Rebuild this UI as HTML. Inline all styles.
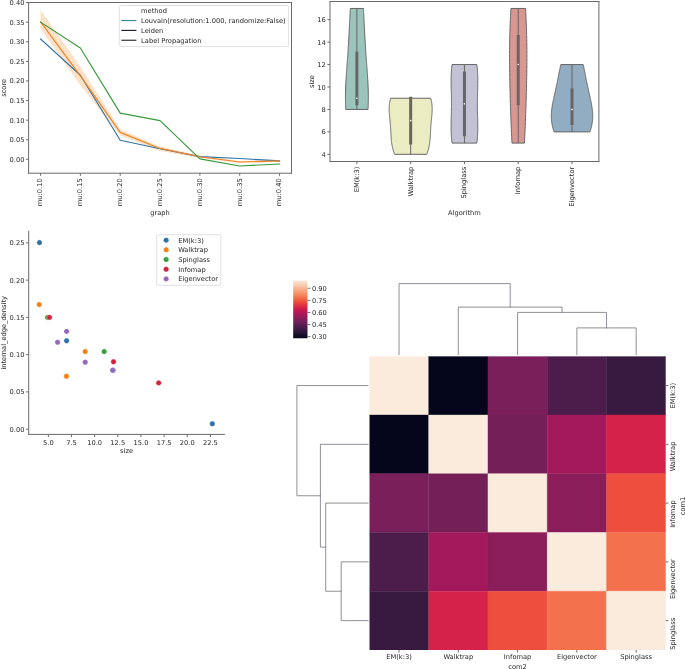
<!DOCTYPE html>
<html><head><meta charset="utf-8"><title>figure</title>
<style>html,body{margin:0;padding:0;background:#fff;}body{width:685px;height:669px;overflow:hidden;}svg{display:block;}</style>
</head><body>
<svg width="685" height="669" viewBox="0 0 685 669" version="1.1">
<defs>
<style type="text/css">*{stroke-linejoin: round; stroke-linecap: butt}</style>
</defs>
<defs><linearGradient id="rocketg" x1="0" y1="1" x2="0" y2="0"><stop offset="0.0000" stop-color="#03051a"/><stop offset="0.0312" stop-color="#0d0a21"/><stop offset="0.0625" stop-color="#180f29"/><stop offset="0.0938" stop-color="#241432"/><stop offset="0.1250" stop-color="#30173a"/><stop offset="0.1562" stop-color="#3c1a42"/><stop offset="0.1875" stop-color="#481c48"/><stop offset="0.2188" stop-color="#541e4e"/><stop offset="0.2500" stop-color="#611f53"/><stop offset="0.2812" stop-color="#6e1f57"/><stop offset="0.3125" stop-color="#7b1f59"/><stop offset="0.3438" stop-color="#891e5b"/><stop offset="0.3750" stop-color="#971c5b"/><stop offset="0.4062" stop-color="#a4195b"/><stop offset="0.4375" stop-color="#b21758"/><stop offset="0.4688" stop-color="#bf1654"/><stop offset="0.5000" stop-color="#cb1b4f"/><stop offset="0.5312" stop-color="#d62449"/><stop offset="0.5625" stop-color="#df2f44"/><stop offset="0.5938" stop-color="#e73d3f"/><stop offset="0.6250" stop-color="#ec4c3e"/><stop offset="0.6562" stop-color="#f05c42"/><stop offset="0.6875" stop-color="#f26b49"/><stop offset="0.7188" stop-color="#f47a54"/><stop offset="0.7500" stop-color="#f58860"/><stop offset="0.7812" stop-color="#f5966c"/><stop offset="0.8125" stop-color="#f6a37a"/><stop offset="0.8438" stop-color="#f6b089"/><stop offset="0.8750" stop-color="#f6bc99"/><stop offset="0.9062" stop-color="#f7c9aa"/><stop offset="0.9375" stop-color="#f8d4bc"/><stop offset="0.9688" stop-color="#f9e0cd"/><stop offset="1.0000" stop-color="#faebdd"/></linearGradient></defs><g id="figure_1">
<g id="patch_1">
<path d="M 0 669 
L 685 669 
L 685 0 
L 0 0 
z
" style="fill: #ffffff"/>
</g>
<g id="axes_1">
<g id="patch_2">
<path d="M 28.6 173.2 
L 291.5 173.2 
L 291.5 2.5 
L 28.6 2.5 
z
" style="fill: #ffffff"/>
</g>
<g id="FillBetweenPolyCollection_1">
<defs>
<path id="mf088a156a7" d="M 40.55 -658.97 
L 40.55 -640.16 
L 80.38 -583.73 
L 120.21 -533.41 
L 160.05 -518.05 
L 199.88 -511.04 
L 239.71 -505.94 
L 279.55 -507.12 
L 279.55 -509.08 
L 279.55 -509.08 
L 239.71 -508.10 
L 199.88 -513.39 
L 160.05 -522.44 
L 120.21 -539.84 
L 80.38 -602.15 
L 40.55 -658.97 
z
"/>
</defs>
<g clip-path="url(#pcce8763bb0)">
<use href="#mf088a156a7" x="0" y="669" style="fill: #f5821a; fill-opacity: 0.24"/>
</g>
</g>
<g id="matplotlib.axis_1">
<g id="xtick_1">
<g id="line2d_1">
<defs>
<path id="m3653ed4295" d="M 0 0 
L 0 2.6 
" style="stroke: #6a6a6a"/>
</defs>
<g>
<use href="#m3653ed4295" x="40.55" y="173.2" style="fill: #6a6a6a; stroke: #6a6a6a"/>
</g>
</g>
<g id="text_1">
<text style="font-size: 6.7px; font-family: 'DejaVu Sans', 'Liberation Sans', sans-serif; fill: #262626" transform="translate(42.39 206.24) rotate(-90)">mu:0.10</text>
</g>
</g>
<g id="xtick_2">
<g id="line2d_2">
<g>
<use href="#m3653ed4295" x="80.38" y="173.2" style="fill: #6a6a6a; stroke: #6a6a6a"/>
</g>
</g>
<g id="text_2">
<text style="font-size: 6.7px; font-family: 'DejaVu Sans', 'Liberation Sans', sans-serif; fill: #262626" transform="translate(82.23 206.24) rotate(-90)">mu:0.15</text>
</g>
</g>
<g id="xtick_3">
<g id="line2d_3">
<g>
<use href="#m3653ed4295" x="120.21" y="173.2" style="fill: #6a6a6a; stroke: #6a6a6a"/>
</g>
</g>
<g id="text_3">
<text style="font-size: 6.7px; font-family: 'DejaVu Sans', 'Liberation Sans', sans-serif; fill: #262626" transform="translate(122.06 206.24) rotate(-90)">mu:0.20</text>
</g>
</g>
<g id="xtick_4">
<g id="line2d_4">
<g>
<use href="#m3653ed4295" x="160.05" y="173.2" style="fill: #6a6a6a; stroke: #6a6a6a"/>
</g>
</g>
<g id="text_4">
<text style="font-size: 6.7px; font-family: 'DejaVu Sans', 'Liberation Sans', sans-serif; fill: #262626" transform="translate(161.89 206.24) rotate(-90)">mu:0.25</text>
</g>
</g>
<g id="xtick_5">
<g id="line2d_5">
<g>
<use href="#m3653ed4295" x="199.88" y="173.2" style="fill: #6a6a6a; stroke: #6a6a6a"/>
</g>
</g>
<g id="text_5">
<text style="font-size: 6.7px; font-family: 'DejaVu Sans', 'Liberation Sans', sans-serif; fill: #262626" transform="translate(201.73 206.24) rotate(-90)">mu:0.30</text>
</g>
</g>
<g id="xtick_6">
<g id="line2d_6">
<g>
<use href="#m3653ed4295" x="239.71" y="173.2" style="fill: #6a6a6a; stroke: #6a6a6a"/>
</g>
</g>
<g id="text_6">
<text style="font-size: 6.7px; font-family: 'DejaVu Sans', 'Liberation Sans', sans-serif; fill: #262626" transform="translate(241.56 206.24) rotate(-90)">mu:0.35</text>
</g>
</g>
<g id="xtick_7">
<g id="line2d_7">
<g>
<use href="#m3653ed4295" x="279.55" y="173.2" style="fill: #6a6a6a; stroke: #6a6a6a"/>
</g>
</g>
<g id="text_7">
<text style="font-size: 6.7px; font-family: 'DejaVu Sans', 'Liberation Sans', sans-serif; fill: #262626" transform="translate(281.39 206.24) rotate(-90)">mu:0.40</text>
</g>
</g>
<g id="text_8">
<text style="font-size: 6.7px; font-family: 'DejaVu Sans', 'Liberation Sans', sans-serif; text-anchor: middle; fill: #262626" x="160.05" y="214.53" transform="rotate(-0 160.05 214.53)">graph</text>
</g>
</g>
<g id="matplotlib.axis_2">
<g id="ytick_1">
<g id="line2d_8">
<defs>
<path id="m8a6f96d0d9" d="M 0 0 
L -2.6 0 
" style="stroke: #6a6a6a"/>
</defs>
<g>
<use href="#m8a6f96d0d9" x="28.6" y="159.32" style="fill: #6a6a6a; stroke: #6a6a6a"/>
</g>
</g>
<g id="text_9">
<text style="font-size: 6.7px; font-family: 'DejaVu Sans', 'Liberation Sans', sans-serif; text-anchor: end; fill: #262626" x="24.4" y="161.87" transform="rotate(-0 24.4 161.87)">0.00</text>
</g>
</g>
<g id="ytick_2">
<g id="line2d_9">
<g>
<use href="#m8a6f96d0d9" x="28.6" y="139.73" style="fill: #6a6a6a; stroke: #6a6a6a"/>
</g>
</g>
<g id="text_10">
<text style="font-size: 6.7px; font-family: 'DejaVu Sans', 'Liberation Sans', sans-serif; text-anchor: end; fill: #262626" x="24.4" y="142.27" transform="rotate(-0 24.4 142.27)">0.05</text>
</g>
</g>
<g id="ytick_3">
<g id="line2d_10">
<g>
<use href="#m8a6f96d0d9" x="28.6" y="120.14" style="fill: #6a6a6a; stroke: #6a6a6a"/>
</g>
</g>
<g id="text_11">
<text style="font-size: 6.7px; font-family: 'DejaVu Sans', 'Liberation Sans', sans-serif; text-anchor: end; fill: #262626" x="24.4" y="122.68" transform="rotate(-0 24.4 122.68)">0.10</text>
</g>
</g>
<g id="ytick_4">
<g id="line2d_11">
<g>
<use href="#m8a6f96d0d9" x="28.6" y="100.54" style="fill: #6a6a6a; stroke: #6a6a6a"/>
</g>
</g>
<g id="text_12">
<text style="font-size: 6.7px; font-family: 'DejaVu Sans', 'Liberation Sans', sans-serif; text-anchor: end; fill: #262626" x="24.4" y="103.09" transform="rotate(-0 24.4 103.09)">0.15</text>
</g>
</g>
<g id="ytick_5">
<g id="line2d_12">
<g>
<use href="#m8a6f96d0d9" x="28.6" y="80.95" style="fill: #6a6a6a; stroke: #6a6a6a"/>
</g>
</g>
<g id="text_13">
<text style="font-size: 6.7px; font-family: 'DejaVu Sans', 'Liberation Sans', sans-serif; text-anchor: end; fill: #262626" x="24.4" y="83.49" transform="rotate(-0 24.4 83.49)">0.20</text>
</g>
</g>
<g id="ytick_6">
<g id="line2d_13">
<g>
<use href="#m8a6f96d0d9" x="28.6" y="61.35" style="fill: #6a6a6a; stroke: #6a6a6a"/>
</g>
</g>
<g id="text_14">
<text style="font-size: 6.7px; font-family: 'DejaVu Sans', 'Liberation Sans', sans-serif; text-anchor: end; fill: #262626" x="24.4" y="63.90" transform="rotate(-0 24.4 63.90)">0.25</text>
</g>
</g>
<g id="ytick_7">
<g id="line2d_14">
<g>
<use href="#m8a6f96d0d9" x="28.6" y="41.76" style="fill: #6a6a6a; stroke: #6a6a6a"/>
</g>
</g>
<g id="text_15">
<text style="font-size: 6.7px; font-family: 'DejaVu Sans', 'Liberation Sans', sans-serif; text-anchor: end; fill: #262626" x="24.4" y="44.31" transform="rotate(-0 24.4 44.31)">0.30</text>
</g>
</g>
<g id="ytick_8">
<g id="line2d_15">
<g>
<use href="#m8a6f96d0d9" x="28.6" y="22.17" style="fill: #6a6a6a; stroke: #6a6a6a"/>
</g>
</g>
<g id="text_16">
<text style="font-size: 6.7px; font-family: 'DejaVu Sans', 'Liberation Sans', sans-serif; text-anchor: end; fill: #262626" x="24.4" y="24.71" transform="rotate(-0 24.4 24.71)">0.35</text>
</g>
</g>
<g id="ytick_9">
<g id="line2d_16">
<g>
<use href="#m8a6f96d0d9" x="28.6" y="2.57" style="fill: #6a6a6a; stroke: #6a6a6a"/>
</g>
</g>
<g id="text_17">
<text style="font-size: 6.7px; font-family: 'DejaVu Sans', 'Liberation Sans', sans-serif; text-anchor: end; fill: #262626" x="24.4" y="5.12" transform="rotate(-0 24.4 5.12)">0.40</text>
</g>
</g>
<g id="text_18">
<text style="font-size: 6.7px; font-family: 'DejaVu Sans', 'Liberation Sans', sans-serif; text-anchor: middle; fill: #262626" x="6.08" y="87.85" transform="rotate(-90 6.08 87.85)">score</text>
</g>
</g>
<g id="line2d_17">
<path d="M 40.55 39.02 
L 80.38 75.27 
L 120.21 140.24 
L 160.05 148.74 
L 199.88 156.58 
L 239.71 158.54 
L 279.55 160.89 
" clip-path="url(#pcce8763bb0)" style="fill: none; stroke: #2b74aa; stroke-width: 1.15; stroke-linecap: square"/>
</g>
<g id="line2d_18">
<path d="M 40.55 21.78 
L 80.38 75.85 
L 120.21 132.36 
L 160.05 148.43 
L 199.88 156.74 
L 239.71 161.95 
L 279.55 160.89 
" clip-path="url(#pcce8763bb0)" style="fill: none; stroke: #ee8424; stroke-width: 1.15; stroke-linecap: square"/>
</g>
<g id="line2d_19">
<path d="M 40.55 22.17 
L 80.38 48.03 
L 120.21 113.08 
L 160.05 120.57 
L 199.88 158.93 
L 239.71 165.98 
L 279.55 164.03 
" clip-path="url(#pcce8763bb0)" style="fill: none; stroke: #379a3c; stroke-width: 1.15; stroke-linecap: square"/>
</g>
<g id="patch_3">
<path d="M 28.6 173.2 
L 28.6 2.5 
" style="fill: none; stroke: #6a6a6a; stroke-linejoin: miter; stroke-linecap: square"/>
</g>
<g id="patch_4">
<path d="M 291.5 173.2 
L 291.5 2.5 
" style="fill: none; stroke: #6a6a6a; stroke-linejoin: miter; stroke-linecap: square"/>
</g>
<g id="patch_5">
<path d="M 28.6 173.2 
L 291.5 173.2 
" style="fill: none; stroke: #6a6a6a; stroke-linejoin: miter; stroke-linecap: square"/>
</g>
<g id="patch_6">
<path d="M 28.6 2.5 
L 291.5 2.5 
" style="fill: none; stroke: #6a6a6a; stroke-linejoin: miter; stroke-linecap: square"/>
</g>
<g id="legend_1">
<g id="patch_7">
<path d="M 120.68 46.46 
L 287.14 46.46 
Q 288.48 46.46 288.48 45.12 
L 288.48 6.85 
Q 288.48 5.51 287.14 5.51 
L 120.68 5.51 
Q 119.34 5.51 119.34 6.85 
L 119.34 45.12 
Q 119.34 46.46 120.68 46.46 
z
" style="fill: #ffffff; opacity: 0.8; stroke: #d0d0d0; stroke-width: 0.8; stroke-linejoin: miter"/>
</g>
<g id="line2d_20">
<path d="M 121.82 10.73 
L 128.85 10.73 
L 135.89 10.73 
" style="fill: none; stroke: #000000; stroke-opacity: 0; stroke-width: 1.5; stroke-linecap: square"/>
</g>
<g id="text_19">
<text style="font-size: 6.7px; font-family: 'DejaVu Sans', 'Liberation Sans', sans-serif; text-anchor: start; fill: #262626" x="141.11" y="13.08" transform="rotate(-0 141.11 13.08)">method</text>
</g>
<g id="line2d_21">
<path d="M 121.82 20.57 
L 128.85 20.57 
L 135.89 20.57 
" style="fill: none; stroke: #3d8699; stroke-width: 1.1; stroke-linecap: square"/>
</g>
<g id="text_20">
<text style="font-size: 6.7px; font-family: 'DejaVu Sans', 'Liberation Sans', sans-serif; text-anchor: start; fill: #262626" x="141.11" y="22.91" transform="rotate(-0 141.11 22.91)">Louvain(resolution:1.000, randomize:False)</text>
</g>
<g id="line2d_22">
<path d="M 121.82 30.40 
L 128.85 30.40 
L 135.89 30.40 
" style="fill: none; stroke: #151525; stroke-width: 1.1; stroke-linecap: square"/>
</g>
<g id="text_21">
<text style="font-size: 6.7px; font-family: 'DejaVu Sans', 'Liberation Sans', sans-serif; text-anchor: start; fill: #262626" x="141.11" y="32.75" transform="rotate(-0 141.11 32.75)">Leiden</text>
</g>
<g id="line2d_23">
<path d="M 121.82 40.24 
L 128.85 40.24 
L 135.89 40.24 
" style="fill: none; stroke: #232323; stroke-width: 1.1; stroke-linecap: square"/>
</g>
<g id="text_22">
<text style="font-size: 6.7px; font-family: 'DejaVu Sans', 'Liberation Sans', sans-serif; text-anchor: start; fill: #262626" x="141.11" y="42.58" transform="rotate(-0 141.11 42.58)">Label Propagation</text>
</g>
</g>
</g>
<g id="axes_2">
<g id="patch_8">
<path d="M 330 161.5 
L 598.9 161.5 
L 598.9 1.5 
L 330 1.5 
z
" style="fill: #ffffff"/>
</g>
<g id="FillBetweenPolyCollection_2">
<defs>
<path id="m57afafc38e" d="M 368.03 -559.56 
L 345.74 -559.56 
L 345.69 -560.58 
L 345.64 -561.60 
L 345.60 -562.62 
L 345.57 -563.64 
L 345.54 -564.66 
L 345.51 -565.68 
L 345.49 -566.70 
L 345.47 -567.72 
L 345.46 -568.74 
L 345.45 -569.76 
L 345.44 -570.78 
L 345.44 -571.80 
L 345.45 -572.82 
L 345.46 -573.84 
L 345.47 -574.86 
L 345.48 -575.88 
L 345.50 -576.90 
L 345.53 -577.92 
L 345.56 -578.94 
L 345.59 -579.96 
L 345.62 -580.98 
L 345.66 -582.00 
L 345.70 -583.02 
L 345.75 -584.04 
L 345.79 -585.06 
L 345.85 -586.08 
L 345.90 -587.10 
L 345.95 -588.12 
L 346.01 -589.14 
L 346.07 -590.16 
L 346.13 -591.18 
L 346.20 -592.20 
L 346.26 -593.22 
L 346.33 -594.24 
L 346.40 -595.26 
L 346.47 -596.28 
L 346.54 -597.30 
L 346.61 -598.32 
L 346.69 -599.34 
L 346.76 -600.36 
L 346.84 -601.38 
L 346.91 -602.40 
L 346.99 -603.42 
L 347.06 -604.44 
L 347.14 -605.46 
L 347.21 -606.48 
L 347.29 -607.50 
L 347.37 -608.52 
L 347.44 -609.54 
L 347.52 -610.56 
L 347.59 -611.58 
L 347.66 -612.60 
L 347.74 -613.62 
L 347.81 -614.64 
L 347.88 -615.66 
L 347.95 -616.68 
L 348.02 -617.70 
L 348.09 -618.72 
L 348.16 -619.74 
L 348.23 -620.76 
L 348.29 -621.78 
L 348.36 -622.80 
L 348.42 -623.82 
L 348.48 -624.84 
L 348.55 -625.86 
L 348.61 -626.88 
L 348.67 -627.90 
L 348.72 -628.92 
L 348.78 -629.94 
L 348.84 -630.96 
L 348.89 -631.98 
L 348.95 -633.00 
L 349.00 -634.02 
L 349.06 -635.04 
L 349.11 -636.06 
L 349.16 -637.08 
L 349.21 -638.10 
L 349.26 -639.12 
L 349.31 -640.14 
L 349.36 -641.16 
L 349.41 -642.18 
L 349.46 -643.20 
L 349.51 -644.22 
L 349.56 -645.24 
L 349.61 -646.26 
L 349.66 -647.28 
L 349.70 -648.30 
L 349.75 -649.32 
L 349.80 -650.34 
L 349.85 -651.36 
L 349.90 -652.38 
L 349.95 -653.40 
L 350.00 -654.42 
L 350.05 -655.44 
L 350.10 -656.46 
L 350.15 -657.48 
L 350.21 -658.50 
L 350.26 -659.52 
L 350.31 -660.54 
L 363.46 -660.54 
L 363.46 -660.54 
L 363.51 -659.52 
L 363.56 -658.50 
L 363.62 -657.48 
L 363.67 -656.46 
L 363.72 -655.44 
L 363.77 -654.42 
L 363.82 -653.40 
L 363.87 -652.38 
L 363.92 -651.36 
L 363.97 -650.34 
L 364.02 -649.32 
L 364.07 -648.30 
L 364.11 -647.28 
L 364.16 -646.26 
L 364.21 -645.24 
L 364.26 -644.22 
L 364.31 -643.20 
L 364.36 -642.18 
L 364.41 -641.16 
L 364.46 -640.14 
L 364.51 -639.12 
L 364.56 -638.10 
L 364.61 -637.08 
L 364.66 -636.06 
L 364.71 -635.04 
L 364.77 -634.02 
L 364.82 -633.00 
L 364.88 -631.98 
L 364.93 -630.96 
L 364.99 -629.94 
L 365.05 -628.92 
L 365.10 -627.90 
L 365.16 -626.88 
L 365.22 -625.86 
L 365.29 -624.84 
L 365.35 -623.82 
L 365.41 -622.80 
L 365.48 -621.78 
L 365.54 -620.76 
L 365.61 -619.74 
L 365.68 -618.72 
L 365.75 -617.70 
L 365.82 -616.68 
L 365.89 -615.66 
L 365.96 -614.64 
L 366.03 -613.62 
L 366.11 -612.60 
L 366.18 -611.58 
L 366.25 -610.56 
L 366.33 -609.54 
L 366.40 -608.52 
L 366.48 -607.50 
L 366.56 -606.48 
L 366.63 -605.46 
L 366.71 -604.44 
L 366.78 -603.42 
L 366.86 -602.40 
L 366.93 -601.38 
L 367.01 -600.36 
L 367.08 -599.34 
L 367.16 -598.32 
L 367.23 -597.30 
L 367.30 -596.28 
L 367.37 -595.26 
L 367.44 -594.24 
L 367.51 -593.22 
L 367.57 -592.20 
L 367.64 -591.18 
L 367.70 -590.16 
L 367.76 -589.14 
L 367.82 -588.12 
L 367.87 -587.10 
L 367.92 -586.08 
L 367.98 -585.06 
L 368.02 -584.04 
L 368.07 -583.02 
L 368.11 -582.00 
L 368.15 -580.98 
L 368.18 -579.96 
L 368.21 -578.94 
L 368.24 -577.92 
L 368.27 -576.90 
L 368.29 -575.88 
L 368.30 -574.86 
L 368.31 -573.84 
L 368.32 -572.82 
L 368.33 -571.80 
L 368.33 -570.78 
L 368.32 -569.76 
L 368.31 -568.74 
L 368.30 -567.72 
L 368.28 -566.70 
L 368.26 -565.68 
L 368.23 -564.66 
L 368.20 -563.64 
L 368.17 -562.62 
L 368.13 -561.60 
L 368.08 -560.58 
L 368.03 -559.56 
z
" style="stroke: #656565"/>
</defs>
<g clip-path="url(#p27ece66cb1)">
<use href="#m57afafc38e" x="0" y="669" style="fill: #9bc4bd; stroke: #656565"/>
</g>
</g>
<g id="FillBetweenPolyCollection_3">
<defs>
<path id="m23efcf0b68" d="M 426.70 -514.68 
L 394.63 -514.68 
L 394.41 -515.24 
L 394.20 -515.81 
L 394.00 -516.38 
L 393.81 -516.94 
L 393.62 -517.51 
L 393.44 -518.08 
L 393.27 -518.64 
L 393.10 -519.21 
L 392.94 -519.78 
L 392.79 -520.34 
L 392.65 -520.91 
L 392.51 -521.48 
L 392.39 -522.04 
L 392.27 -522.61 
L 392.15 -523.18 
L 392.04 -523.74 
L 391.94 -524.31 
L 391.85 -524.88 
L 391.76 -525.44 
L 391.68 -526.01 
L 391.60 -526.58 
L 391.53 -527.14 
L 391.46 -527.71 
L 391.40 -528.28 
L 391.34 -528.84 
L 391.29 -529.41 
L 391.24 -529.98 
L 391.20 -530.54 
L 391.16 -531.11 
L 391.12 -531.68 
L 391.08 -532.24 
L 391.05 -532.81 
L 391.01 -533.38 
L 390.98 -533.94 
L 390.95 -534.51 
L 390.92 -535.08 
L 390.90 -535.64 
L 390.87 -536.21 
L 390.84 -536.78 
L 390.81 -537.34 
L 390.78 -537.91 
L 390.75 -538.48 
L 390.72 -539.04 
L 390.69 -539.61 
L 390.66 -540.18 
L 390.63 -540.74 
L 390.59 -541.31 
L 390.55 -541.88 
L 390.52 -542.44 
L 390.47 -543.01 
L 390.43 -543.58 
L 390.39 -544.14 
L 390.34 -544.71 
L 390.29 -545.28 
L 390.24 -545.84 
L 390.19 -546.41 
L 390.14 -546.98 
L 390.09 -547.54 
L 390.03 -548.11 
L 389.98 -548.68 
L 389.92 -549.24 
L 389.86 -549.81 
L 389.81 -550.38 
L 389.75 -550.94 
L 389.69 -551.51 
L 389.64 -552.08 
L 389.58 -552.64 
L 389.53 -553.21 
L 389.48 -553.78 
L 389.43 -554.34 
L 389.38 -554.91 
L 389.34 -555.48 
L 389.30 -556.04 
L 389.26 -556.61 
L 389.23 -557.18 
L 389.21 -557.74 
L 389.18 -558.31 
L 389.17 -558.88 
L 389.16 -559.44 
L 389.15 -560.01 
L 389.16 -560.58 
L 389.17 -561.14 
L 389.18 -561.71 
L 389.21 -562.28 
L 389.24 -562.84 
L 389.28 -563.41 
L 389.34 -563.98 
L 389.40 -564.54 
L 389.47 -565.11 
L 389.54 -565.68 
L 389.63 -566.24 
L 389.73 -566.81 
L 389.84 -567.38 
L 389.96 -567.94 
L 390.09 -568.51 
L 390.23 -569.08 
L 390.39 -569.64 
L 390.55 -570.21 
L 390.72 -570.78 
L 430.61 -570.78 
L 430.61 -570.78 
L 430.78 -570.21 
L 430.94 -569.64 
L 431.10 -569.08 
L 431.24 -568.51 
L 431.37 -567.94 
L 431.49 -567.38 
L 431.60 -566.81 
L 431.70 -566.24 
L 431.79 -565.68 
L 431.86 -565.11 
L 431.93 -564.54 
L 431.99 -563.98 
L 432.05 -563.41 
L 432.09 -562.84 
L 432.12 -562.28 
L 432.15 -561.71 
L 432.16 -561.14 
L 432.17 -560.58 
L 432.18 -560.01 
L 432.17 -559.44 
L 432.16 -558.88 
L 432.15 -558.31 
L 432.12 -557.74 
L 432.10 -557.18 
L 432.07 -556.61 
L 432.03 -556.04 
L 431.99 -555.48 
L 431.95 -554.91 
L 431.90 -554.34 
L 431.85 -553.78 
L 431.80 -553.21 
L 431.75 -552.64 
L 431.69 -552.08 
L 431.64 -551.51 
L 431.58 -550.94 
L 431.52 -550.38 
L 431.47 -549.81 
L 431.41 -549.24 
L 431.35 -548.68 
L 431.30 -548.11 
L 431.24 -547.54 
L 431.19 -546.98 
L 431.14 -546.41 
L 431.09 -545.84 
L 431.04 -545.28 
L 430.99 -544.71 
L 430.94 -544.14 
L 430.90 -543.58 
L 430.86 -543.01 
L 430.81 -542.44 
L 430.78 -541.88 
L 430.74 -541.31 
L 430.70 -540.74 
L 430.67 -540.18 
L 430.64 -539.61 
L 430.61 -539.04 
L 430.58 -538.48 
L 430.55 -537.91 
L 430.52 -537.34 
L 430.49 -536.78 
L 430.46 -536.21 
L 430.43 -535.64 
L 430.41 -535.08 
L 430.38 -534.51 
L 430.35 -533.94 
L 430.32 -533.38 
L 430.28 -532.81 
L 430.25 -532.24 
L 430.21 -531.68 
L 430.17 -531.11 
L 430.13 -530.54 
L 430.09 -529.98 
L 430.04 -529.41 
L 429.99 -528.84 
L 429.93 -528.28 
L 429.87 -527.71 
L 429.80 -527.14 
L 429.73 -526.58 
L 429.65 -526.01 
L 429.57 -525.44 
L 429.48 -524.88 
L 429.39 -524.31 
L 429.29 -523.74 
L 429.18 -523.18 
L 429.06 -522.61 
L 428.94 -522.04 
L 428.82 -521.48 
L 428.68 -520.91 
L 428.54 -520.34 
L 428.39 -519.78 
L 428.23 -519.21 
L 428.06 -518.64 
L 427.89 -518.08 
L 427.71 -517.51 
L 427.52 -516.94 
L 427.33 -516.38 
L 427.13 -515.81 
L 426.92 -515.24 
L 426.70 -514.68 
z
" style="stroke: #656565"/>
</defs>
<g clip-path="url(#p27ece66cb1)">
<use href="#m23efcf0b68" x="0" y="669" style="fill: #ececc3; stroke: #656565"/>
</g>
</g>
<g id="FillBetweenPolyCollection_4">
<defs>
<path id="m18a691c478" d="M 476.87 -525.90 
L 452.02 -525.90 
L 451.92 -526.69 
L 451.83 -527.48 
L 451.75 -528.28 
L 451.67 -529.07 
L 451.60 -529.86 
L 451.53 -530.66 
L 451.47 -531.45 
L 451.41 -532.24 
L 451.36 -533.04 
L 451.31 -533.83 
L 451.27 -534.62 
L 451.23 -535.42 
L 451.20 -536.21 
L 451.17 -537.00 
L 451.15 -537.80 
L 451.13 -538.59 
L 451.12 -539.38 
L 451.11 -540.18 
L 451.10 -540.97 
L 451.10 -541.76 
L 451.10 -542.56 
L 451.10 -543.35 
L 451.11 -544.14 
L 451.12 -544.94 
L 451.13 -545.73 
L 451.14 -546.52 
L 451.16 -547.32 
L 451.17 -548.11 
L 451.19 -548.90 
L 451.21 -549.70 
L 451.23 -550.49 
L 451.25 -551.28 
L 451.27 -552.08 
L 451.29 -552.87 
L 451.31 -553.66 
L 451.33 -554.46 
L 451.35 -555.25 
L 451.37 -556.04 
L 451.39 -556.84 
L 451.41 -557.63 
L 451.42 -558.42 
L 451.44 -559.22 
L 451.45 -560.01 
L 451.46 -560.80 
L 451.47 -561.60 
L 451.48 -562.39 
L 451.49 -563.18 
L 451.49 -563.98 
L 451.49 -564.77 
L 451.49 -565.56 
L 451.49 -566.36 
L 451.49 -567.15 
L 451.48 -567.94 
L 451.47 -568.74 
L 451.46 -569.53 
L 451.45 -570.32 
L 451.44 -571.12 
L 451.42 -571.91 
L 451.41 -572.70 
L 451.39 -573.50 
L 451.37 -574.29 
L 451.35 -575.08 
L 451.33 -575.88 
L 451.31 -576.67 
L 451.29 -577.46 
L 451.27 -578.26 
L 451.25 -579.05 
L 451.23 -579.84 
L 451.21 -580.64 
L 451.19 -581.43 
L 451.17 -582.22 
L 451.16 -583.02 
L 451.14 -583.81 
L 451.13 -584.60 
L 451.12 -585.40 
L 451.11 -586.19 
L 451.10 -586.98 
L 451.10 -587.78 
L 451.10 -588.57 
L 451.10 -589.36 
L 451.11 -590.16 
L 451.12 -590.95 
L 451.13 -591.74 
L 451.15 -592.54 
L 451.17 -593.33 
L 451.20 -594.12 
L 451.23 -594.92 
L 451.27 -595.71 
L 451.31 -596.50 
L 451.36 -597.30 
L 451.41 -598.09 
L 451.47 -598.88 
L 451.53 -599.68 
L 451.60 -600.47 
L 451.67 -601.26 
L 451.75 -602.06 
L 451.83 -602.85 
L 451.92 -603.64 
L 452.02 -604.44 
L 476.87 -604.44 
L 476.87 -604.44 
L 476.97 -603.64 
L 477.06 -602.85 
L 477.14 -602.06 
L 477.22 -601.26 
L 477.29 -600.47 
L 477.36 -599.68 
L 477.42 -598.88 
L 477.48 -598.09 
L 477.53 -597.30 
L 477.58 -596.50 
L 477.62 -595.71 
L 477.66 -594.92 
L 477.69 -594.12 
L 477.72 -593.33 
L 477.74 -592.54 
L 477.76 -591.74 
L 477.77 -590.95 
L 477.78 -590.16 
L 477.79 -589.36 
L 477.79 -588.57 
L 477.79 -587.78 
L 477.79 -586.98 
L 477.78 -586.19 
L 477.77 -585.40 
L 477.76 -584.60 
L 477.75 -583.81 
L 477.73 -583.02 
L 477.72 -582.22 
L 477.70 -581.43 
L 477.68 -580.64 
L 477.66 -579.84 
L 477.64 -579.05 
L 477.62 -578.26 
L 477.60 -577.46 
L 477.58 -576.67 
L 477.56 -575.88 
L 477.54 -575.08 
L 477.52 -574.29 
L 477.50 -573.50 
L 477.48 -572.70 
L 477.47 -571.91 
L 477.45 -571.12 
L 477.44 -570.32 
L 477.43 -569.53 
L 477.42 -568.74 
L 477.41 -567.94 
L 477.40 -567.15 
L 477.40 -566.36 
L 477.40 -565.56 
L 477.40 -564.77 
L 477.40 -563.98 
L 477.40 -563.18 
L 477.41 -562.39 
L 477.42 -561.60 
L 477.43 -560.80 
L 477.44 -560.01 
L 477.45 -559.22 
L 477.47 -558.42 
L 477.48 -557.63 
L 477.50 -556.84 
L 477.52 -556.04 
L 477.54 -555.25 
L 477.56 -554.46 
L 477.58 -553.66 
L 477.60 -552.87 
L 477.62 -552.08 
L 477.64 -551.28 
L 477.66 -550.49 
L 477.68 -549.70 
L 477.70 -548.90 
L 477.72 -548.11 
L 477.73 -547.32 
L 477.75 -546.52 
L 477.76 -545.73 
L 477.77 -544.94 
L 477.78 -544.14 
L 477.79 -543.35 
L 477.79 -542.56 
L 477.79 -541.76 
L 477.79 -540.97 
L 477.78 -540.18 
L 477.77 -539.38 
L 477.76 -538.59 
L 477.74 -537.80 
L 477.72 -537.00 
L 477.69 -536.21 
L 477.66 -535.42 
L 477.62 -534.62 
L 477.58 -533.83 
L 477.53 -533.04 
L 477.48 -532.24 
L 477.42 -531.45 
L 477.36 -530.66 
L 477.29 -529.86 
L 477.22 -529.07 
L 477.14 -528.28 
L 477.06 -527.48 
L 476.97 -526.69 
L 476.87 -525.90 
z
" style="stroke: #656565"/>
</defs>
<g clip-path="url(#p27ece66cb1)">
<use href="#m18a691c478" x="0" y="669" style="fill: #c3c1d4; stroke: #656565"/>
</g>
</g>
<g id="FillBetweenPolyCollection_5">
<defs>
<path id="mb1959f2b1c" d="M 524.46 -525.90 
L 511.99 -525.90 
L 511.92 -527.26 
L 511.85 -528.62 
L 511.79 -529.98 
L 511.72 -531.34 
L 511.66 -532.70 
L 511.59 -534.06 
L 511.53 -535.42 
L 511.47 -536.78 
L 511.41 -538.14 
L 511.35 -539.50 
L 511.29 -540.86 
L 511.23 -542.22 
L 511.17 -543.58 
L 511.12 -544.94 
L 511.06 -546.30 
L 511.01 -547.66 
L 510.96 -549.02 
L 510.91 -550.38 
L 510.86 -551.74 
L 510.81 -553.10 
L 510.76 -554.46 
L 510.71 -555.82 
L 510.66 -557.18 
L 510.62 -558.54 
L 510.57 -559.90 
L 510.53 -561.26 
L 510.48 -562.62 
L 510.44 -563.98 
L 510.40 -565.34 
L 510.35 -566.70 
L 510.31 -568.06 
L 510.27 -569.42 
L 510.24 -570.78 
L 510.20 -572.14 
L 510.16 -573.50 
L 510.12 -574.86 
L 510.09 -576.22 
L 510.05 -577.58 
L 510.02 -578.94 
L 509.99 -580.30 
L 509.95 -581.66 
L 509.92 -583.02 
L 509.89 -584.38 
L 509.86 -585.74 
L 509.83 -587.10 
L 509.81 -588.46 
L 509.78 -589.82 
L 509.76 -591.18 
L 509.73 -592.54 
L 509.71 -593.90 
L 509.69 -595.26 
L 509.67 -596.62 
L 509.65 -597.98 
L 509.63 -599.34 
L 509.62 -600.70 
L 509.60 -602.06 
L 509.59 -603.42 
L 509.58 -604.78 
L 509.57 -606.14 
L 509.56 -607.50 
L 509.55 -608.86 
L 509.55 -610.22 
L 509.55 -611.58 
L 509.54 -612.94 
L 509.55 -614.30 
L 509.55 -615.66 
L 509.55 -617.02 
L 509.56 -618.38 
L 509.57 -619.74 
L 509.58 -621.10 
L 509.60 -622.46 
L 509.61 -623.82 
L 509.63 -625.18 
L 509.65 -626.54 
L 509.67 -627.90 
L 509.70 -629.26 
L 509.72 -630.62 
L 509.75 -631.98 
L 509.79 -633.34 
L 509.82 -634.70 
L 509.86 -636.06 
L 509.90 -637.42 
L 509.94 -638.78 
L 509.98 -640.14 
L 510.03 -641.50 
L 510.08 -642.86 
L 510.13 -644.22 
L 510.19 -645.58 
L 510.24 -646.94 
L 510.30 -648.30 
L 510.37 -649.66 
L 510.43 -651.02 
L 510.50 -652.38 
L 510.56 -653.74 
L 510.64 -655.10 
L 510.71 -656.46 
L 510.78 -657.82 
L 510.86 -659.18 
L 510.94 -660.54 
L 525.51 -660.54 
L 525.51 -660.54 
L 525.59 -659.18 
L 525.67 -657.82 
L 525.74 -656.46 
L 525.81 -655.10 
L 525.89 -653.74 
L 525.95 -652.38 
L 526.02 -651.02 
L 526.08 -649.66 
L 526.15 -648.30 
L 526.21 -646.94 
L 526.26 -645.58 
L 526.32 -644.22 
L 526.37 -642.86 
L 526.42 -641.50 
L 526.47 -640.14 
L 526.51 -638.78 
L 526.55 -637.42 
L 526.59 -636.06 
L 526.63 -634.70 
L 526.66 -633.34 
L 526.70 -631.98 
L 526.73 -630.62 
L 526.75 -629.26 
L 526.78 -627.90 
L 526.80 -626.54 
L 526.82 -625.18 
L 526.84 -623.82 
L 526.85 -622.46 
L 526.87 -621.10 
L 526.88 -619.74 
L 526.89 -618.38 
L 526.90 -617.02 
L 526.90 -615.66 
L 526.90 -614.30 
L 526.91 -612.94 
L 526.90 -611.58 
L 526.90 -610.22 
L 526.90 -608.86 
L 526.89 -607.50 
L 526.88 -606.14 
L 526.87 -604.78 
L 526.86 -603.42 
L 526.85 -602.06 
L 526.83 -600.70 
L 526.82 -599.34 
L 526.80 -597.98 
L 526.78 -596.62 
L 526.76 -595.26 
L 526.74 -593.90 
L 526.72 -592.54 
L 526.69 -591.18 
L 526.67 -589.82 
L 526.64 -588.46 
L 526.62 -587.10 
L 526.59 -585.74 
L 526.56 -584.38 
L 526.53 -583.02 
L 526.50 -581.66 
L 526.46 -580.30 
L 526.43 -578.94 
L 526.40 -577.58 
L 526.36 -576.22 
L 526.33 -574.86 
L 526.29 -573.50 
L 526.25 -572.14 
L 526.21 -570.78 
L 526.18 -569.42 
L 526.14 -568.06 
L 526.10 -566.70 
L 526.05 -565.34 
L 526.01 -563.98 
L 525.97 -562.62 
L 525.92 -561.26 
L 525.88 -559.90 
L 525.83 -558.54 
L 525.79 -557.18 
L 525.74 -555.82 
L 525.69 -554.46 
L 525.64 -553.10 
L 525.59 -551.74 
L 525.54 -550.38 
L 525.49 -549.02 
L 525.44 -547.66 
L 525.39 -546.30 
L 525.33 -544.94 
L 525.28 -543.58 
L 525.22 -542.22 
L 525.16 -540.86 
L 525.10 -539.50 
L 525.04 -538.14 
L 524.98 -536.78 
L 524.92 -535.42 
L 524.86 -534.06 
L 524.79 -532.70 
L 524.73 -531.34 
L 524.66 -529.98 
L 524.60 -528.62 
L 524.53 -527.26 
L 524.46 -525.90 
z
" style="stroke: #656565"/>
</defs>
<g clip-path="url(#p27ece66cb1)">
<use href="#mb1959f2b1c" x="0" y="669" style="fill: #d99792; stroke: #656565"/>
</g>
</g>
<g id="FillBetweenPolyCollection_6">
<defs>
<path id="mda69e7e673" d="M 589.94 -537.12 
L 554.07 -537.12 
L 553.84 -537.80 
L 553.62 -538.48 
L 553.40 -539.16 
L 553.20 -539.84 
L 553.01 -540.52 
L 552.82 -541.20 
L 552.65 -541.88 
L 552.49 -542.56 
L 552.33 -543.24 
L 552.19 -543.92 
L 552.06 -544.60 
L 551.94 -545.28 
L 551.83 -545.96 
L 551.73 -546.64 
L 551.64 -547.32 
L 551.56 -548.00 
L 551.49 -548.68 
L 551.44 -549.36 
L 551.39 -550.04 
L 551.35 -550.72 
L 551.33 -551.40 
L 551.31 -552.08 
L 551.30 -552.76 
L 551.31 -553.44 
L 551.32 -554.12 
L 551.34 -554.80 
L 551.37 -555.48 
L 551.41 -556.16 
L 551.46 -556.84 
L 551.51 -557.52 
L 551.58 -558.20 
L 551.65 -558.88 
L 551.73 -559.56 
L 551.81 -560.24 
L 551.90 -560.92 
L 552.00 -561.60 
L 552.10 -562.28 
L 552.21 -562.96 
L 552.33 -563.64 
L 552.44 -564.32 
L 552.57 -565.00 
L 552.69 -565.68 
L 552.83 -566.36 
L 552.96 -567.04 
L 553.10 -567.72 
L 553.24 -568.40 
L 553.38 -569.08 
L 553.52 -569.76 
L 553.67 -570.44 
L 553.82 -571.12 
L 553.97 -571.80 
L 554.12 -572.48 
L 554.27 -573.16 
L 554.42 -573.84 
L 554.57 -574.52 
L 554.73 -575.20 
L 554.88 -575.88 
L 555.03 -576.56 
L 555.18 -577.24 
L 555.33 -577.92 
L 555.48 -578.60 
L 555.63 -579.28 
L 555.78 -579.96 
L 555.93 -580.64 
L 556.08 -581.32 
L 556.22 -582.00 
L 556.37 -582.68 
L 556.51 -583.36 
L 556.65 -584.04 
L 556.79 -584.72 
L 556.93 -585.40 
L 557.07 -586.08 
L 557.21 -586.76 
L 557.35 -587.44 
L 557.49 -588.12 
L 557.62 -588.80 
L 557.76 -589.48 
L 557.89 -590.16 
L 558.03 -590.84 
L 558.16 -591.52 
L 558.30 -592.20 
L 558.43 -592.88 
L 558.57 -593.56 
L 558.70 -594.24 
L 558.83 -594.92 
L 558.97 -595.60 
L 559.11 -596.28 
L 559.24 -596.96 
L 559.38 -597.64 
L 559.52 -598.32 
L 559.66 -599.00 
L 559.80 -599.68 
L 559.95 -600.36 
L 560.09 -601.04 
L 560.24 -601.72 
L 560.38 -602.40 
L 560.53 -603.08 
L 560.69 -603.76 
L 560.84 -604.44 
L 583.17 -604.44 
L 583.17 -604.44 
L 583.32 -603.76 
L 583.48 -603.08 
L 583.63 -602.40 
L 583.77 -601.72 
L 583.92 -601.04 
L 584.06 -600.36 
L 584.21 -599.68 
L 584.35 -599.00 
L 584.49 -598.32 
L 584.63 -597.64 
L 584.77 -596.96 
L 584.90 -596.28 
L 585.04 -595.60 
L 585.18 -594.92 
L 585.31 -594.24 
L 585.44 -593.56 
L 585.58 -592.88 
L 585.71 -592.20 
L 585.85 -591.52 
L 585.98 -590.84 
L 586.12 -590.16 
L 586.25 -589.48 
L 586.39 -588.80 
L 586.52 -588.12 
L 586.66 -587.44 
L 586.80 -586.76 
L 586.94 -586.08 
L 587.08 -585.40 
L 587.22 -584.72 
L 587.36 -584.04 
L 587.50 -583.36 
L 587.64 -582.68 
L 587.79 -582.00 
L 587.93 -581.32 
L 588.08 -580.64 
L 588.23 -579.96 
L 588.38 -579.28 
L 588.53 -578.60 
L 588.68 -577.92 
L 588.83 -577.24 
L 588.98 -576.56 
L 589.13 -575.88 
L 589.28 -575.20 
L 589.44 -574.52 
L 589.59 -573.84 
L 589.74 -573.16 
L 589.89 -572.48 
L 590.04 -571.80 
L 590.19 -571.12 
L 590.34 -570.44 
L 590.49 -569.76 
L 590.63 -569.08 
L 590.77 -568.40 
L 590.91 -567.72 
L 591.05 -567.04 
L 591.18 -566.36 
L 591.32 -565.68 
L 591.44 -565.00 
L 591.57 -564.32 
L 591.68 -563.64 
L 591.80 -562.96 
L 591.91 -562.28 
L 592.01 -561.60 
L 592.11 -560.92 
L 592.20 -560.24 
L 592.28 -559.56 
L 592.36 -558.88 
L 592.43 -558.20 
L 592.50 -557.52 
L 592.55 -556.84 
L 592.60 -556.16 
L 592.64 -555.48 
L 592.67 -554.80 
L 592.69 -554.12 
L 592.70 -553.44 
L 592.71 -552.76 
L 592.70 -552.08 
L 592.68 -551.40 
L 592.66 -550.72 
L 592.62 -550.04 
L 592.57 -549.36 
L 592.52 -548.68 
L 592.45 -548.00 
L 592.37 -547.32 
L 592.28 -546.64 
L 592.18 -545.96 
L 592.07 -545.28 
L 591.95 -544.60 
L 591.82 -543.92 
L 591.68 -543.24 
L 591.52 -542.56 
L 591.36 -541.88 
L 591.19 -541.20 
L 591.00 -540.52 
L 590.81 -539.84 
L 590.61 -539.16 
L 590.39 -538.48 
L 590.17 -537.80 
L 589.94 -537.12 
z
" style="stroke: #656565"/>
</defs>
<g clip-path="url(#p27ece66cb1)">
<use href="#mda69e7e673" x="0" y="669" style="fill: #92adc2; stroke: #656565"/>
</g>
</g>
<g id="matplotlib.axis_3">
<g id="xtick_8">
<g id="line2d_24">
<g>
<use href="#m3653ed4295" x="356.89" y="161.5" style="fill: #6a6a6a; stroke: #6a6a6a"/>
</g>
</g>
<g id="text_23">
<text style="font-size: 6.7px; font-family: 'DejaVu Sans', 'Liberation Sans', sans-serif; fill: #262626" transform="translate(358.73 192.34) rotate(-90)">EM(k:3)</text>
</g>
</g>
<g id="xtick_9">
<g id="line2d_25">
<g>
<use href="#m3653ed4295" x="410.67" y="161.5" style="fill: #6a6a6a; stroke: #6a6a6a"/>
</g>
</g>
<g id="text_24">
<text style="font-size: 6.7px; font-family: 'DejaVu Sans', 'Liberation Sans', sans-serif; fill: #262626" transform="translate(412.51 196.48) rotate(-90)">Walktrap</text>
</g>
</g>
<g id="xtick_10">
<g id="line2d_26">
<g>
<use href="#m3653ed4295" x="464.45" y="161.5" style="fill: #6a6a6a; stroke: #6a6a6a"/>
</g>
</g>
<g id="text_25">
<text style="font-size: 6.7px; font-family: 'DejaVu Sans', 'Liberation Sans', sans-serif; fill: #262626" transform="translate(466.29 198.51) rotate(-90)">Spinglass</text>
</g>
</g>
<g id="xtick_11">
<g id="line2d_27">
<g>
<use href="#m3653ed4295" x="518.23" y="161.5" style="fill: #6a6a6a; stroke: #6a6a6a"/>
</g>
</g>
<g id="text_26">
<text style="font-size: 6.7px; font-family: 'DejaVu Sans', 'Liberation Sans', sans-serif; fill: #262626" transform="translate(520.07 194.26) rotate(-90)">Infomap</text>
</g>
</g>
<g id="xtick_12">
<g id="line2d_28">
<g>
<use href="#m3653ed4295" x="572.01" y="161.5" style="fill: #6a6a6a; stroke: #6a6a6a"/>
</g>
</g>
<g id="text_27">
<text style="font-size: 6.7px; font-family: 'DejaVu Sans', 'Liberation Sans', sans-serif; fill: #262626" transform="translate(573.85 206.66) rotate(-90)">Eigenvector</text>
</g>
</g>
<g id="text_28">
<text style="font-size: 6.7px; font-family: 'DejaVu Sans', 'Liberation Sans', sans-serif; text-anchor: middle; fill: #262626" x="464.45" y="214.96" transform="rotate(-0 464.45 214.96)">Algorithm</text>
</g>
</g>
<g id="matplotlib.axis_4">
<g id="ytick_10">
<g id="line2d_29">
<g>
<use href="#m8a6f96d0d9" x="330" y="154.31" style="fill: #6a6a6a; stroke: #6a6a6a"/>
</g>
</g>
<g id="text_29">
<text style="font-size: 6.7px; font-family: 'DejaVu Sans', 'Liberation Sans', sans-serif; text-anchor: end; fill: #262626" x="325.8" y="156.86" transform="rotate(-0 325.8 156.86)">4</text>
</g>
</g>
<g id="ytick_11">
<g id="line2d_30">
<g>
<use href="#m8a6f96d0d9" x="330" y="131.87" style="fill: #6a6a6a; stroke: #6a6a6a"/>
</g>
</g>
<g id="text_30">
<text style="font-size: 6.7px; font-family: 'DejaVu Sans', 'Liberation Sans', sans-serif; text-anchor: end; fill: #262626" x="325.8" y="134.42" transform="rotate(-0 325.8 134.42)">6</text>
</g>
</g>
<g id="ytick_12">
<g id="line2d_31">
<g>
<use href="#m8a6f96d0d9" x="330" y="109.43" style="fill: #6a6a6a; stroke: #6a6a6a"/>
</g>
</g>
<g id="text_31">
<text style="font-size: 6.7px; font-family: 'DejaVu Sans', 'Liberation Sans', sans-serif; text-anchor: end; fill: #262626" x="325.8" y="111.98" transform="rotate(-0 325.8 111.98)">8</text>
</g>
</g>
<g id="ytick_13">
<g id="line2d_32">
<g>
<use href="#m8a6f96d0d9" x="330" y="86.99" style="fill: #6a6a6a; stroke: #6a6a6a"/>
</g>
</g>
<g id="text_32">
<text style="font-size: 6.7px; font-family: 'DejaVu Sans', 'Liberation Sans', sans-serif; text-anchor: end; fill: #262626" x="325.8" y="89.54" transform="rotate(-0 325.8 89.54)">10</text>
</g>
</g>
<g id="ytick_14">
<g id="line2d_33">
<g>
<use href="#m8a6f96d0d9" x="330" y="64.55" style="fill: #6a6a6a; stroke: #6a6a6a"/>
</g>
</g>
<g id="text_33">
<text style="font-size: 6.7px; font-family: 'DejaVu Sans', 'Liberation Sans', sans-serif; text-anchor: end; fill: #262626" x="325.8" y="67.10" transform="rotate(-0 325.8 67.10)">12</text>
</g>
</g>
<g id="ytick_15">
<g id="line2d_34">
<g>
<use href="#m8a6f96d0d9" x="330" y="42.11" style="fill: #6a6a6a; stroke: #6a6a6a"/>
</g>
</g>
<g id="text_34">
<text style="font-size: 6.7px; font-family: 'DejaVu Sans', 'Liberation Sans', sans-serif; text-anchor: end; fill: #262626" x="325.8" y="44.66" transform="rotate(-0 325.8 44.66)">14</text>
</g>
</g>
<g id="ytick_16">
<g id="line2d_35">
<g>
<use href="#m8a6f96d0d9" x="330" y="19.67" style="fill: #6a6a6a; stroke: #6a6a6a"/>
</g>
</g>
<g id="text_35">
<text style="font-size: 6.7px; font-family: 'DejaVu Sans', 'Liberation Sans', sans-serif; text-anchor: end; fill: #262626" x="325.8" y="22.22" transform="rotate(-0 325.8 22.22)">16</text>
</g>
</g>
<g id="text_36">
<text style="font-size: 6.7px; font-family: 'DejaVu Sans', 'Liberation Sans', sans-serif; text-anchor: middle; fill: #262626" x="313.88" y="81.5" transform="rotate(-90 313.88 81.5)">size</text>
</g>
</g>
<g id="patch_9">
<path d="M 330 161.5 
L 330 1.5 
" style="fill: none; stroke: #6a6a6a; stroke-linejoin: miter; stroke-linecap: square"/>
</g>
<g id="patch_10">
<path d="M 598.9 161.5 
L 598.9 1.5 
" style="fill: none; stroke: #6a6a6a; stroke-linejoin: miter; stroke-linecap: square"/>
</g>
<g id="patch_11">
<path d="M 330 161.5 
L 598.9 161.5 
" style="fill: none; stroke: #6a6a6a; stroke-linejoin: miter; stroke-linecap: square"/>
</g>
<g id="patch_12">
<path d="M 330 1.5 
L 598.9 1.5 
" style="fill: none; stroke: #6a6a6a; stroke-linejoin: miter; stroke-linecap: square"/>
</g>
<g id="line2d_36">
<path d="M 356.89 109.43 
L 356.89 8.45 
" clip-path="url(#p27ece66cb1)" style="fill: none; stroke: #656565"/>
</g>
<g id="line2d_37">
<path d="M 356.89 103.82 
L 356.89 53.33 
" clip-path="url(#p27ece66cb1)" style="fill: none; stroke: #656565; stroke-width: 3; stroke-linecap: square"/>
</g>
<g id="line2d_38">
<path d="M 410.67 154.31 
L 410.67 98.21 
" clip-path="url(#p27ece66cb1)" style="fill: none; stroke: #656565"/>
</g>
<g id="line2d_39">
<path d="M 410.67 143.09 
L 410.67 98.21 
" clip-path="url(#p27ece66cb1)" style="fill: none; stroke: #656565; stroke-width: 3; stroke-linecap: square"/>
</g>
<g id="line2d_40">
<path d="M 464.45 143.09 
L 464.45 64.55 
" clip-path="url(#p27ece66cb1)" style="fill: none; stroke: #656565"/>
</g>
<g id="line2d_41">
<path d="M 464.45 134.68 
L 464.45 72.97 
" clip-path="url(#p27ece66cb1)" style="fill: none; stroke: #656565; stroke-width: 3; stroke-linecap: square"/>
</g>
<g id="line2d_42">
<path d="M 518.23 143.09 
L 518.23 8.45 
" clip-path="url(#p27ece66cb1)" style="fill: none; stroke: #656565"/>
</g>
<g id="line2d_43">
<path d="M 518.23 103.82 
L 518.23 36.50 
" clip-path="url(#p27ece66cb1)" style="fill: none; stroke: #656565; stroke-width: 3; stroke-linecap: square"/>
</g>
<g id="line2d_44">
<path d="M 572.01 131.87 
L 572.01 64.55 
" clip-path="url(#p27ece66cb1)" style="fill: none; stroke: #656565"/>
</g>
<g id="line2d_45">
<path d="M 572.01 123.46 
L 572.01 89.80 
" clip-path="url(#p27ece66cb1)" style="fill: none; stroke: #656565; stroke-width: 3; stroke-linecap: square"/>
</g>
<g id="PathCollection_1">
<defs>
<path id="m1d6611bc80" d="M 0 0.80 
C 0.21 0.80 0.41 0.72 0.57 0.57 
C 0.72 0.41 0.80 0.21 0.80 0 
C 0.80 -0.21 0.72 -0.41 0.57 -0.57 
C 0.41 -0.72 0.21 -0.80 0 -0.80 
C -0.21 -0.80 -0.41 -0.72 -0.57 -0.57 
C -0.72 -0.41 -0.80 -0.21 -0.80 0 
C -0.80 0.21 -0.72 0.41 -0.57 0.57 
C -0.41 0.72 -0.21 0.80 0 0.80 
z
"/>
</defs>
<g clip-path="url(#p27ece66cb1)">
<use href="#m1d6611bc80" x="356.89" y="98.21" style="fill: #ffffff"/>
</g>
</g>
<g id="PathCollection_2">
<g clip-path="url(#p27ece66cb1)">
<use href="#m1d6611bc80" x="410.67" y="120.65" style="fill: #ffffff"/>
</g>
</g>
<g id="PathCollection_3">
<g clip-path="url(#p27ece66cb1)">
<use href="#m1d6611bc80" x="464.45" y="103.82" style="fill: #ffffff"/>
</g>
</g>
<g id="PathCollection_4">
<g clip-path="url(#p27ece66cb1)">
<use href="#m1d6611bc80" x="518.23" y="64.55" style="fill: #ffffff"/>
</g>
</g>
<g id="PathCollection_5">
<g clip-path="url(#p27ece66cb1)">
<use href="#m1d6611bc80" x="572.01" y="109.43" style="fill: #ffffff"/>
</g>
</g>
</g>
<g id="axes_3">
<g id="patch_13">
<path d="M 28.7 434.4 
L 224.4 434.4 
L 224.4 231.2 
L 28.7 231.2 
z
" style="fill: #ffffff"/>
</g>
<g id="matplotlib.axis_5">
<g id="xtick_13">
<g id="line2d_46">
<g>
<use href="#m3653ed4295" x="48.35" y="434.4" style="fill: #6a6a6a; stroke: #6a6a6a"/>
</g>
</g>
<g id="text_37">
<text style="font-size: 6.7px; font-family: 'DejaVu Sans', 'Liberation Sans', sans-serif; text-anchor: middle; fill: #262626" x="48.35" y="445.09" transform="rotate(-0 48.35 445.09)">5.0</text>
</g>
</g>
<g id="xtick_14">
<g id="line2d_47">
<g>
<use href="#m3653ed4295" x="71.5" y="434.4" style="fill: #6a6a6a; stroke: #6a6a6a"/>
</g>
</g>
<g id="text_38">
<text style="font-size: 6.7px; font-family: 'DejaVu Sans', 'Liberation Sans', sans-serif; text-anchor: middle; fill: #262626" x="71.5" y="445.09" transform="rotate(-0 71.5 445.09)">7.5</text>
</g>
</g>
<g id="xtick_15">
<g id="line2d_48">
<g>
<use href="#m3653ed4295" x="94.65" y="434.4" style="fill: #6a6a6a; stroke: #6a6a6a"/>
</g>
</g>
<g id="text_39">
<text style="font-size: 6.7px; font-family: 'DejaVu Sans', 'Liberation Sans', sans-serif; text-anchor: middle; fill: #262626" x="94.65" y="445.09" transform="rotate(-0 94.65 445.09)">10.0</text>
</g>
</g>
<g id="xtick_16">
<g id="line2d_49">
<g>
<use href="#m3653ed4295" x="117.8" y="434.4" style="fill: #6a6a6a; stroke: #6a6a6a"/>
</g>
</g>
<g id="text_40">
<text style="font-size: 6.7px; font-family: 'DejaVu Sans', 'Liberation Sans', sans-serif; text-anchor: middle; fill: #262626" x="117.8" y="445.09" transform="rotate(-0 117.8 445.09)">12.5</text>
</g>
</g>
<g id="xtick_17">
<g id="line2d_50">
<g>
<use href="#m3653ed4295" x="140.95" y="434.4" style="fill: #6a6a6a; stroke: #6a6a6a"/>
</g>
</g>
<g id="text_41">
<text style="font-size: 6.7px; font-family: 'DejaVu Sans', 'Liberation Sans', sans-serif; text-anchor: middle; fill: #262626" x="140.95" y="445.09" transform="rotate(-0 140.95 445.09)">15.0</text>
</g>
</g>
<g id="xtick_18">
<g id="line2d_51">
<g>
<use href="#m3653ed4295" x="164.1" y="434.4" style="fill: #6a6a6a; stroke: #6a6a6a"/>
</g>
</g>
<g id="text_42">
<text style="font-size: 6.7px; font-family: 'DejaVu Sans', 'Liberation Sans', sans-serif; text-anchor: middle; fill: #262626" x="164.1" y="445.09" transform="rotate(-0 164.1 445.09)">17.5</text>
</g>
</g>
<g id="xtick_19">
<g id="line2d_52">
<g>
<use href="#m3653ed4295" x="187.25" y="434.4" style="fill: #6a6a6a; stroke: #6a6a6a"/>
</g>
</g>
<g id="text_43">
<text style="font-size: 6.7px; font-family: 'DejaVu Sans', 'Liberation Sans', sans-serif; text-anchor: middle; fill: #262626" x="187.25" y="445.09" transform="rotate(-0 187.25 445.09)">20.0</text>
</g>
</g>
<g id="xtick_20">
<g id="line2d_53">
<g>
<use href="#m3653ed4295" x="210.4" y="434.4" style="fill: #6a6a6a; stroke: #6a6a6a"/>
</g>
</g>
<g id="text_44">
<text style="font-size: 6.7px; font-family: 'DejaVu Sans', 'Liberation Sans', sans-serif; text-anchor: middle; fill: #262626" x="210.4" y="445.09" transform="rotate(-0 210.4 445.09)">22.5</text>
</g>
</g>
<g id="text_45">
<text style="font-size: 6.7px; font-family: 'DejaVu Sans', 'Liberation Sans', sans-serif; text-anchor: middle; fill: #262626" x="126.55" y="453.37" transform="rotate(-0 126.55 453.37)">size</text>
</g>
</g>
<g id="matplotlib.axis_6">
<g id="ytick_17">
<g id="line2d_54">
<g>
<use href="#m8a6f96d0d9" x="28.7" y="429.2" style="fill: #6a6a6a; stroke: #6a6a6a"/>
</g>
</g>
<g id="text_46">
<text style="font-size: 6.7px; font-family: 'DejaVu Sans', 'Liberation Sans', sans-serif; text-anchor: end; fill: #262626" x="24.5" y="431.74" transform="rotate(-0 24.5 431.74)">0.00</text>
</g>
</g>
<g id="ytick_18">
<g id="line2d_55">
<g>
<use href="#m8a6f96d0d9" x="28.7" y="391.92" style="fill: #6a6a6a; stroke: #6a6a6a"/>
</g>
</g>
<g id="text_47">
<text style="font-size: 6.7px; font-family: 'DejaVu Sans', 'Liberation Sans', sans-serif; text-anchor: end; fill: #262626" x="24.5" y="394.47" transform="rotate(-0 24.5 394.47)">0.05</text>
</g>
</g>
<g id="ytick_19">
<g id="line2d_56">
<g>
<use href="#m8a6f96d0d9" x="28.7" y="354.65" style="fill: #6a6a6a; stroke: #6a6a6a"/>
</g>
</g>
<g id="text_48">
<text style="font-size: 6.7px; font-family: 'DejaVu Sans', 'Liberation Sans', sans-serif; text-anchor: end; fill: #262626" x="24.5" y="357.19" transform="rotate(-0 24.5 357.19)">0.10</text>
</g>
</g>
<g id="ytick_20">
<g id="line2d_57">
<g>
<use href="#m8a6f96d0d9" x="28.7" y="317.37" style="fill: #6a6a6a; stroke: #6a6a6a"/>
</g>
</g>
<g id="text_49">
<text style="font-size: 6.7px; font-family: 'DejaVu Sans', 'Liberation Sans', sans-serif; text-anchor: end; fill: #262626" x="24.5" y="319.92" transform="rotate(-0 24.5 319.92)">0.15</text>
</g>
</g>
<g id="ytick_21">
<g id="line2d_58">
<g>
<use href="#m8a6f96d0d9" x="28.7" y="280.1" style="fill: #6a6a6a; stroke: #6a6a6a"/>
</g>
</g>
<g id="text_50">
<text style="font-size: 6.7px; font-family: 'DejaVu Sans', 'Liberation Sans', sans-serif; text-anchor: end; fill: #262626" x="24.5" y="282.64" transform="rotate(-0 24.5 282.64)">0.20</text>
</g>
</g>
<g id="ytick_22">
<g id="line2d_59">
<g>
<use href="#m8a6f96d0d9" x="28.7" y="242.82" style="fill: #6a6a6a; stroke: #6a6a6a"/>
</g>
</g>
<g id="text_51">
<text style="font-size: 6.7px; font-family: 'DejaVu Sans', 'Liberation Sans', sans-serif; text-anchor: end; fill: #262626" x="24.5" y="245.37" transform="rotate(-0 24.5 245.37)">0.25</text>
</g>
</g>
<g id="text_52">
<text style="font-size: 6.7px; font-family: 'DejaVu Sans', 'Liberation Sans', sans-serif; text-anchor: middle; fill: #262626" x="6.00" y="332.8" transform="rotate(-90 6.00 332.8)">internal_edge_density</text>
</g>
</g>
<g id="patch_14">
<path d="M 28.7 434.4 
L 28.7 231.2 
" style="fill: none; stroke: #6a6a6a; stroke-linejoin: miter; stroke-linecap: square"/>
</g>
<g id="patch_15">
<path d="M 28.7 434.4 
L 224.4 434.4 
" style="fill: none; stroke: #6a6a6a; stroke-linejoin: miter; stroke-linecap: square"/>
</g>
<g id="PathCollection_6">
<defs>
<path id="mce8ca313d8" d="M 0 2.73 
C 0.72 2.73 1.42 2.45 1.93 1.93 
C 2.45 1.42 2.73 0.72 2.73 0 
C 2.73 -0.72 2.45 -1.42 1.93 -1.93 
C 1.42 -2.45 0.72 -2.73 0 -2.73 
C -0.72 -2.73 -1.42 -2.45 -1.93 -1.93 
C -2.45 -1.42 -2.73 -0.72 -2.73 0 
C -2.73 0.72 -2.45 1.42 -1.93 1.93 
C -1.42 2.45 -0.72 2.73 0 2.73 
z
" style="stroke: #ffffff; stroke-width: 0.4"/>
</defs>
<g clip-path="url(#pf8faa2f763)">
<use href="#mce8ca313d8" x="39.5" y="242.6" style="fill: #2c72a8; stroke: #ffffff; stroke-width: 0.4"/>
</g>
</g>
<g id="PathCollection_7">
<defs>
<path id="mc842b7e4ab" d="M 0 2.73 
C 0.72 2.73 1.42 2.45 1.93 1.93 
C 2.45 1.42 2.73 0.72 2.73 0 
C 2.73 -0.72 2.45 -1.42 1.93 -1.93 
C 1.42 -2.45 0.72 -2.73 0 -2.73 
C -0.72 -2.73 -1.42 -2.45 -1.93 -1.93 
C -2.45 -1.42 -2.73 -0.72 -2.73 0 
C -2.73 0.72 -2.45 1.42 -1.93 1.93 
C -1.42 2.45 -0.72 2.73 0 2.73 
z
" style="stroke: #ffffff; stroke-width: 0.4"/>
</defs>
<g clip-path="url(#pf8faa2f763)">
<use href="#mc842b7e4ab" x="39.2" y="304.6" style="fill: #fa8012; stroke: #ffffff; stroke-width: 0.4"/>
</g>
</g>
<g id="PathCollection_8">
<defs>
<path id="mc41fe6e2f7" d="M 0 2.73 
C 0.72 2.73 1.42 2.45 1.93 1.93 
C 2.45 1.42 2.73 0.72 2.73 0 
C 2.73 -0.72 2.45 -1.42 1.93 -1.93 
C 1.42 -2.45 0.72 -2.73 0 -2.73 
C -0.72 -2.73 -1.42 -2.45 -1.93 -1.93 
C -2.45 -1.42 -2.73 -0.72 -2.73 0 
C -2.73 0.72 -2.45 1.42 -1.93 1.93 
C -1.42 2.45 -0.72 2.73 0 2.73 
z
" style="stroke: #ffffff; stroke-width: 0.4"/>
</defs>
<g clip-path="url(#pf8faa2f763)">
<use href="#mc41fe6e2f7" x="47.5" y="317.4" style="fill: #36a03a; stroke: #ffffff; stroke-width: 0.4"/>
</g>
</g>
<g id="PathCollection_9">
<defs>
<path id="ma7ed69ec40" d="M 0 2.73 
C 0.72 2.73 1.42 2.45 1.93 1.93 
C 2.45 1.42 2.73 0.72 2.73 0 
C 2.73 -0.72 2.45 -1.42 1.93 -1.93 
C 1.42 -2.45 0.72 -2.73 0 -2.73 
C -0.72 -2.73 -1.42 -2.45 -1.93 -1.93 
C -2.45 -1.42 -2.73 -0.72 -2.73 0 
C -2.73 0.72 -2.45 1.42 -1.93 1.93 
C -1.42 2.45 -0.72 2.73 0 2.73 
z
" style="stroke: #ffffff; stroke-width: 0.4"/>
</defs>
<g clip-path="url(#pf8faa2f763)">
<use href="#ma7ed69ec40" x="49.5" y="317.4" style="fill: #d6203c; stroke: #ffffff; stroke-width: 0.4"/>
</g>
</g>
<g id="PathCollection_10">
<defs>
<path id="ma3ebe845f1" d="M 0 2.73 
C 0.72 2.73 1.42 2.45 1.93 1.93 
C 2.45 1.42 2.73 0.72 2.73 0 
C 2.73 -0.72 2.45 -1.42 1.93 -1.93 
C 1.42 -2.45 0.72 -2.73 0 -2.73 
C -0.72 -2.73 -1.42 -2.45 -1.93 -1.93 
C -2.45 -1.42 -2.73 -0.72 -2.73 0 
C -2.73 0.72 -2.45 1.42 -1.93 1.93 
C -1.42 2.45 -0.72 2.73 0 2.73 
z
" style="stroke: #ffffff; stroke-width: 0.4"/>
</defs>
<g clip-path="url(#pf8faa2f763)">
<use href="#ma3ebe845f1" x="66.6" y="331.4" style="fill: #9468b8; stroke: #ffffff; stroke-width: 0.4"/>
</g>
</g>
<g id="PathCollection_11">
<g clip-path="url(#pf8faa2f763)">
<use href="#ma3ebe845f1" x="57.6" y="342.3" style="fill: #9468b8; stroke: #ffffff; stroke-width: 0.4"/>
</g>
</g>
<g id="PathCollection_12">
<g clip-path="url(#pf8faa2f763)">
<use href="#mce8ca313d8" x="66.6" y="340.8" style="fill: #2c72a8; stroke: #ffffff; stroke-width: 0.4"/>
</g>
</g>
<g id="PathCollection_13">
<g clip-path="url(#pf8faa2f763)">
<use href="#mc842b7e4ab" x="85.2" y="351.6" style="fill: #fa8012; stroke: #ffffff; stroke-width: 0.4"/>
</g>
</g>
<g id="PathCollection_14">
<g clip-path="url(#pf8faa2f763)">
<use href="#mc41fe6e2f7" x="104.2" y="351.6" style="fill: #36a03a; stroke: #ffffff; stroke-width: 0.4"/>
</g>
</g>
<g id="PathCollection_15">
<g clip-path="url(#pf8faa2f763)">
<use href="#ma3ebe845f1" x="85.2" y="362.2" style="fill: #9468b8; stroke: #ffffff; stroke-width: 0.4"/>
</g>
</g>
<g id="PathCollection_16">
<g clip-path="url(#pf8faa2f763)">
<use href="#ma7ed69ec40" x="113.5" y="361.7" style="fill: #d6203c; stroke: #ffffff; stroke-width: 0.4"/>
</g>
</g>
<g id="PathCollection_17">
<g clip-path="url(#pf8faa2f763)">
<use href="#mce8ca313d8" x="113.2" y="370.3" style="fill: #2c72a8; stroke: #ffffff; stroke-width: 0.4"/>
</g>
</g>
<g id="PathCollection_18">
<g clip-path="url(#pf8faa2f763)">
<use href="#ma3ebe845f1" x="112.6" y="370.3" style="fill: #9468b8; stroke: #ffffff; stroke-width: 0.4"/>
</g>
</g>
<g id="PathCollection_19">
<g clip-path="url(#pf8faa2f763)">
<use href="#mc842b7e4ab" x="66.4" y="376.2" style="fill: #fa8012; stroke: #ffffff; stroke-width: 0.4"/>
</g>
</g>
<g id="PathCollection_20">
<g clip-path="url(#pf8faa2f763)">
<use href="#ma7ed69ec40" x="158.7" y="382.9" style="fill: #d6203c; stroke: #ffffff; stroke-width: 0.4"/>
</g>
</g>
<g id="PathCollection_21">
<g clip-path="url(#pf8faa2f763)">
<use href="#mce8ca313d8" x="212.3" y="423.8" style="fill: #2c72a8; stroke: #ffffff; stroke-width: 0.4"/>
</g>
</g>
<g id="legend_2">
<g id="patch_16">
<path d="M 158.09 285.31 
L 219.50 285.31 
Q 220.84 285.31 220.84 283.97 
L 220.84 236.09 
Q 220.84 234.75 219.50 234.75 
L 158.09 234.75 
Q 156.75 234.75 156.75 236.09 
L 156.75 283.97 
Q 156.75 285.31 158.09 285.31 
z
" style="fill: #ffffff; opacity: 0.8; stroke: #d0d0d0; stroke-width: 0.8; stroke-linejoin: miter"/>
</g>
<g id="line2d_60">
<defs>
<path id="m5781b0831d" d="M 0 2.75 
C 0.72 2.75 1.42 2.46 1.94 1.94 
C 2.46 1.42 2.75 0.72 2.75 0 
C 2.75 -0.72 2.46 -1.42 1.94 -1.94 
C 1.42 -2.46 0.72 -2.75 0 -2.75 
C -0.72 -2.75 -1.42 -2.46 -1.94 -1.94 
C -2.46 -1.42 -2.75 -0.72 -2.75 0 
C -2.75 0.72 -2.46 1.42 -1.94 1.94 
C -1.42 2.46 -0.72 2.75 0 2.75 
z
" style="stroke: #ffffff; stroke-width: 0.4"/>
</defs>
<g>
<use href="#m5781b0831d" x="166.13" y="240.17" style="fill: #2c72a8; stroke: #ffffff; stroke-width: 0.4"/>
</g>
</g>
<g id="text_53">
<text style="font-size: 6.7px; font-family: 'DejaVu Sans', 'Liberation Sans', sans-serif; text-anchor: start; fill: #262626" x="178.19" y="242.52" transform="rotate(-0 178.19 242.52)">EM(k:3)</text>
</g>
<g id="line2d_61">
<defs>
<path id="mb271d17dd4" d="M 0 2.75 
C 0.72 2.75 1.42 2.46 1.94 1.94 
C 2.46 1.42 2.75 0.72 2.75 0 
C 2.75 -0.72 2.46 -1.42 1.94 -1.94 
C 1.42 -2.46 0.72 -2.75 0 -2.75 
C -0.72 -2.75 -1.42 -2.46 -1.94 -1.94 
C -2.46 -1.42 -2.75 -0.72 -2.75 0 
C -2.75 0.72 -2.46 1.42 -1.94 1.94 
C -1.42 2.46 -0.72 2.75 0 2.75 
z
" style="stroke: #ffffff; stroke-width: 0.4"/>
</defs>
<g>
<use href="#mb271d17dd4" x="166.13" y="249.85" style="fill: #fa8012; stroke: #ffffff; stroke-width: 0.4"/>
</g>
</g>
<g id="text_54">
<text style="font-size: 6.7px; font-family: 'DejaVu Sans', 'Liberation Sans', sans-serif; text-anchor: start; fill: #262626" x="178.19" y="252.20" transform="rotate(-0 178.19 252.20)">Walktrap</text>
</g>
<g id="line2d_62">
<defs>
<path id="m805b9eafd1" d="M 0 2.75 
C 0.72 2.75 1.42 2.46 1.94 1.94 
C 2.46 1.42 2.75 0.72 2.75 0 
C 2.75 -0.72 2.46 -1.42 1.94 -1.94 
C 1.42 -2.46 0.72 -2.75 0 -2.75 
C -0.72 -2.75 -1.42 -2.46 -1.94 -1.94 
C -2.46 -1.42 -2.75 -0.72 -2.75 0 
C -2.75 0.72 -2.46 1.42 -1.94 1.94 
C -1.42 2.46 -0.72 2.75 0 2.75 
z
" style="stroke: #ffffff; stroke-width: 0.4"/>
</defs>
<g>
<use href="#m805b9eafd1" x="166.13" y="259.53" style="fill: #36a03a; stroke: #ffffff; stroke-width: 0.4"/>
</g>
</g>
<g id="text_55">
<text style="font-size: 6.7px; font-family: 'DejaVu Sans', 'Liberation Sans', sans-serif; text-anchor: start; fill: #262626" x="178.19" y="261.88" transform="rotate(-0 178.19 261.88)">Spinglass</text>
</g>
<g id="line2d_63">
<defs>
<path id="m78f8502c88" d="M 0 2.75 
C 0.72 2.75 1.42 2.46 1.94 1.94 
C 2.46 1.42 2.75 0.72 2.75 0 
C 2.75 -0.72 2.46 -1.42 1.94 -1.94 
C 1.42 -2.46 0.72 -2.75 0 -2.75 
C -0.72 -2.75 -1.42 -2.46 -1.94 -1.94 
C -2.46 -1.42 -2.75 -0.72 -2.75 0 
C -2.75 0.72 -2.46 1.42 -1.94 1.94 
C -1.42 2.46 -0.72 2.75 0 2.75 
z
" style="stroke: #ffffff; stroke-width: 0.4"/>
</defs>
<g>
<use href="#m78f8502c88" x="166.13" y="269.21" style="fill: #d6203c; stroke: #ffffff; stroke-width: 0.4"/>
</g>
</g>
<g id="text_56">
<text style="font-size: 6.7px; font-family: 'DejaVu Sans', 'Liberation Sans', sans-serif; text-anchor: start; fill: #262626" x="178.19" y="271.56" transform="rotate(-0 178.19 271.56)">Infomap</text>
</g>
<g id="line2d_64">
<defs>
<path id="me9d2191606" d="M 0 2.75 
C 0.72 2.75 1.42 2.46 1.94 1.94 
C 2.46 1.42 2.75 0.72 2.75 0 
C 2.75 -0.72 2.46 -1.42 1.94 -1.94 
C 1.42 -2.46 0.72 -2.75 0 -2.75 
C -0.72 -2.75 -1.42 -2.46 -1.94 -1.94 
C -2.46 -1.42 -2.75 -0.72 -2.75 0 
C -2.75 0.72 -2.46 1.42 -1.94 1.94 
C -1.42 2.46 -0.72 2.75 0 2.75 
z
" style="stroke: #ffffff; stroke-width: 0.4"/>
</defs>
<g>
<use href="#me9d2191606" x="166.13" y="278.89" style="fill: #9468b8; stroke: #ffffff; stroke-width: 0.4"/>
</g>
</g>
<g id="text_57">
<text style="font-size: 6.7px; font-family: 'DejaVu Sans', 'Liberation Sans', sans-serif; text-anchor: start; fill: #262626" x="178.19" y="281.24" transform="rotate(-0 178.19 281.24)">Eigenvector</text>
</g>
</g>
</g>
<g id="axes_4">
<g id="patch_17">
<path d="M 369.4 650 
L 665.8 650 
L 665.8 356.2 
L 369.4 356.2 
z
" style="fill: #ffffff"/>
</g>
<g id="QuadMesh_1">
<path d="M 369.4 356.2 
L 428.68 356.2 
L 428.68 414.96 
L 369.4 414.96 
L 369.4 356.2 
" clip-path="url(#pdbb2137045)" style="fill: #faebdd; stroke: #faebdd; stroke-width: 0.35"/>
<path d="M 428.68 356.2 
L 487.96 356.2 
L 487.96 414.96 
L 428.68 414.96 
L 428.68 356.2 
" clip-path="url(#pdbb2137045)" style="fill: #05061b; stroke: #05061b; stroke-width: 0.35"/>
<path d="M 487.96 356.2 
L 547.24 356.2 
L 547.24 414.96 
L 487.96 414.96 
L 487.96 356.2 
" clip-path="url(#pdbb2137045)" style="fill: #7a1f59; stroke: #7a1f59; stroke-width: 0.35"/>
<path d="M 547.24 356.2 
L 606.52 356.2 
L 606.52 414.96 
L 547.24 414.96 
L 547.24 356.2 
" clip-path="url(#pdbb2137045)" style="fill: #4c1d4b; stroke: #4c1d4b; stroke-width: 0.35"/>
<path d="M 606.52 356.2 
L 665.8 356.2 
L 665.8 414.96 
L 606.52 414.96 
L 606.52 356.2 
" clip-path="url(#pdbb2137045)" style="fill: #381a40; stroke: #381a40; stroke-width: 0.35"/>
<path d="M 369.4 414.96 
L 428.68 414.96 
L 428.68 473.72 
L 369.4 473.72 
L 369.4 414.96 
" clip-path="url(#pdbb2137045)" style="fill: #05061b; stroke: #05061b; stroke-width: 0.35"/>
<path d="M 428.68 414.96 
L 487.96 414.96 
L 487.96 473.72 
L 428.68 473.72 
L 428.68 414.96 
" clip-path="url(#pdbb2137045)" style="fill: #faebdd; stroke: #faebdd; stroke-width: 0.35"/>
<path d="M 487.96 414.96 
L 547.24 414.96 
L 547.24 473.72 
L 487.96 473.72 
L 487.96 414.96 
" clip-path="url(#pdbb2137045)" style="fill: #751f58; stroke: #751f58; stroke-width: 0.35"/>
<path d="M 547.24 414.96 
L 606.52 414.96 
L 606.52 473.72 
L 547.24 473.72 
L 547.24 414.96 
" clip-path="url(#pdbb2137045)" style="fill: #a4195b; stroke: #a4195b; stroke-width: 0.35"/>
<path d="M 606.52 414.96 
L 665.8 414.96 
L 665.8 473.72 
L 606.52 473.72 
L 606.52 414.96 
" clip-path="url(#pdbb2137045)" style="fill: #d5224a; stroke: #d5224a; stroke-width: 0.35"/>
<path d="M 369.4 473.72 
L 428.68 473.72 
L 428.68 532.48 
L 369.4 532.48 
L 369.4 473.72 
" clip-path="url(#pdbb2137045)" style="fill: #7a1f59; stroke: #7a1f59; stroke-width: 0.35"/>
<path d="M 428.68 473.72 
L 487.96 473.72 
L 487.96 532.48 
L 428.68 532.48 
L 428.68 473.72 
" clip-path="url(#pdbb2137045)" style="fill: #751f58; stroke: #751f58; stroke-width: 0.35"/>
<path d="M 487.96 473.72 
L 547.24 473.72 
L 547.24 532.48 
L 487.96 532.48 
L 487.96 473.72 
" clip-path="url(#pdbb2137045)" style="fill: #faebdd; stroke: #faebdd; stroke-width: 0.35"/>
<path d="M 547.24 473.72 
L 606.52 473.72 
L 606.52 532.48 
L 547.24 532.48 
L 547.24 473.72 
" clip-path="url(#pdbb2137045)" style="fill: #8c1d5b; stroke: #8c1d5b; stroke-width: 0.35"/>
<path d="M 606.52 473.72 
L 665.8 473.72 
L 665.8 532.48 
L 606.52 532.48 
L 606.52 473.72 
" clip-path="url(#pdbb2137045)" style="fill: #ed4e3e; stroke: #ed4e3e; stroke-width: 0.35"/>
<path d="M 369.4 532.48 
L 428.68 532.48 
L 428.68 591.24 
L 369.4 591.24 
L 369.4 532.48 
" clip-path="url(#pdbb2137045)" style="fill: #4c1d4b; stroke: #4c1d4b; stroke-width: 0.35"/>
<path d="M 428.68 532.48 
L 487.96 532.48 
L 487.96 591.24 
L 428.68 591.24 
L 428.68 532.48 
" clip-path="url(#pdbb2137045)" style="fill: #a4195b; stroke: #a4195b; stroke-width: 0.35"/>
<path d="M 487.96 532.48 
L 547.24 532.48 
L 547.24 591.24 
L 487.96 591.24 
L 487.96 532.48 
" clip-path="url(#pdbb2137045)" style="fill: #8c1d5b; stroke: #8c1d5b; stroke-width: 0.35"/>
<path d="M 547.24 532.48 
L 606.52 532.48 
L 606.52 591.24 
L 547.24 591.24 
L 547.24 532.48 
" clip-path="url(#pdbb2137045)" style="fill: #faebdd; stroke: #faebdd; stroke-width: 0.35"/>
<path d="M 606.52 532.48 
L 665.8 532.48 
L 665.8 591.24 
L 606.52 591.24 
L 606.52 532.48 
" clip-path="url(#pdbb2137045)" style="fill: #f3714d; stroke: #f3714d; stroke-width: 0.35"/>
<path d="M 369.4 591.24 
L 428.68 591.24 
L 428.68 650 
L 369.4 650 
L 369.4 591.24 
" clip-path="url(#pdbb2137045)" style="fill: #381a40; stroke: #381a40; stroke-width: 0.35"/>
<path d="M 428.68 591.24 
L 487.96 591.24 
L 487.96 650 
L 428.68 650 
L 428.68 591.24 
" clip-path="url(#pdbb2137045)" style="fill: #d5224a; stroke: #d5224a; stroke-width: 0.35"/>
<path d="M 487.96 591.24 
L 547.24 591.24 
L 547.24 650 
L 487.96 650 
L 487.96 591.24 
" clip-path="url(#pdbb2137045)" style="fill: #ed4e3e; stroke: #ed4e3e; stroke-width: 0.35"/>
<path d="M 547.24 591.24 
L 606.52 591.24 
L 606.52 650 
L 547.24 650 
L 547.24 591.24 
" clip-path="url(#pdbb2137045)" style="fill: #f3714d; stroke: #f3714d; stroke-width: 0.35"/>
<path d="M 606.52 591.24 
L 665.8 591.24 
L 665.8 650 
L 606.52 650 
L 606.52 591.24 
" clip-path="url(#pdbb2137045)" style="fill: #faebdd; stroke: #faebdd; stroke-width: 0.35"/>
</g>
<g id="matplotlib.axis_7">
<g id="xtick_21">
<g id="line2d_65">
<g>
<use href="#m3653ed4295" x="399.04" y="650" style="fill: #6a6a6a; stroke: #6a6a6a"/>
</g>
</g>
<g id="text_58">
<text style="font-size: 6.7px; font-family: 'DejaVu Sans', 'Liberation Sans', sans-serif; text-anchor: middle; fill: #262626" x="399.04" y="659.29" transform="rotate(-0 399.04 659.29)">EM(k:3)</text>
</g>
</g>
<g id="xtick_22">
<g id="line2d_66">
<g>
<use href="#m3653ed4295" x="458.32" y="650" style="fill: #6a6a6a; stroke: #6a6a6a"/>
</g>
</g>
<g id="text_59">
<text style="font-size: 6.7px; font-family: 'DejaVu Sans', 'Liberation Sans', sans-serif; text-anchor: middle; fill: #262626" x="458.32" y="659.29" transform="rotate(-0 458.32 659.29)">Walktrap</text>
</g>
</g>
<g id="xtick_23">
<g id="line2d_67">
<g>
<use href="#m3653ed4295" x="517.6" y="650" style="fill: #6a6a6a; stroke: #6a6a6a"/>
</g>
</g>
<g id="text_60">
<text style="font-size: 6.7px; font-family: 'DejaVu Sans', 'Liberation Sans', sans-serif; text-anchor: middle; fill: #262626" x="517.6" y="659.29" transform="rotate(-0 517.6 659.29)">Infomap</text>
</g>
</g>
<g id="xtick_24">
<g id="line2d_68">
<g>
<use href="#m3653ed4295" x="576.88" y="650" style="fill: #6a6a6a; stroke: #6a6a6a"/>
</g>
</g>
<g id="text_61">
<text style="font-size: 6.7px; font-family: 'DejaVu Sans', 'Liberation Sans', sans-serif; text-anchor: middle; fill: #262626" x="576.88" y="659.29" transform="rotate(-0 576.88 659.29)">Eigenvector</text>
</g>
</g>
<g id="xtick_25">
<g id="line2d_69">
<g>
<use href="#m3653ed4295" x="636.16" y="650" style="fill: #6a6a6a; stroke: #6a6a6a"/>
</g>
</g>
<g id="text_62">
<text style="font-size: 6.7px; font-family: 'DejaVu Sans', 'Liberation Sans', sans-serif; text-anchor: middle; fill: #262626" x="636.16" y="659.29" transform="rotate(-0 636.16 659.29)">Spinglass</text>
</g>
</g>
<g id="text_63">
<text style="font-size: 6.7px; font-family: 'DejaVu Sans', 'Liberation Sans', sans-serif; text-anchor: middle; fill: #262626" x="517.6" y="669.37" transform="rotate(-0 517.6 669.37)">com2</text>
</g>
</g>
<g id="matplotlib.axis_8">
<g id="ytick_23">
<g id="line2d_70">
<defs>
<path id="m956fd3a591" d="M 0 0 
L 2.6 0 
" style="stroke: #6a6a6a"/>
</defs>
<g>
<use href="#m956fd3a591" x="665.8" y="385.58" style="fill: #6a6a6a; stroke: #6a6a6a"/>
</g>
</g>
<g id="text_64">
<text style="font-size: 6.7px; font-family: 'DejaVu Sans', 'Liberation Sans', sans-serif; fill: #262626" transform="translate(675.09 408.42) rotate(-90)">EM(k:3)</text>
</g>
</g>
<g id="ytick_24">
<g id="line2d_71">
<g>
<use href="#m956fd3a591" x="665.8" y="444.34" style="fill: #6a6a6a; stroke: #6a6a6a"/>
</g>
</g>
<g id="text_65">
<text style="font-size: 6.7px; font-family: 'DejaVu Sans', 'Liberation Sans', sans-serif; fill: #262626" transform="translate(675.09 471.32) rotate(-90)">Walktrap</text>
</g>
</g>
<g id="ytick_25">
<g id="line2d_72">
<g>
<use href="#m956fd3a591" x="665.8" y="503.1" style="fill: #6a6a6a; stroke: #6a6a6a"/>
</g>
</g>
<g id="text_66">
<text style="font-size: 6.7px; font-family: 'DejaVu Sans', 'Liberation Sans', sans-serif; fill: #262626" transform="translate(675.09 527.86) rotate(-90)">Infomap</text>
</g>
</g>
<g id="ytick_26">
<g id="line2d_73">
<g>
<use href="#m956fd3a591" x="665.8" y="561.86" style="fill: #6a6a6a; stroke: #6a6a6a"/>
</g>
</g>
<g id="text_67">
<text style="font-size: 6.7px; font-family: 'DejaVu Sans', 'Liberation Sans', sans-serif; fill: #262626" transform="translate(675.09 599.02) rotate(-90)">Eigenvector</text>
</g>
</g>
<g id="ytick_27">
<g id="line2d_74">
<g>
<use href="#m956fd3a591" x="665.8" y="620.62" style="fill: #6a6a6a; stroke: #6a6a6a"/>
</g>
</g>
<g id="text_68">
<text style="font-size: 6.7px; font-family: 'DejaVu Sans', 'Liberation Sans', sans-serif; fill: #262626" transform="translate(675.09 649.63) rotate(-90)">Spinglass</text>
</g>
</g>
</g>
</g>
<g id="axes_5">
<g id="line2d_75">
<path d="M 576.88 354.7 
L 576.88 327.9 
L 636.16 327.9 
L 636.16 354.7 
" clip-path="url(#p6a2ccd4bcd)" style="fill: none; stroke: #74747e; stroke-width: 0.8; stroke-linejoin: miter; stroke-linecap: square"/>
</g>
<g id="line2d_76">
<path d="M 517.6 354.7 
L 517.6 312.4 
L 606.52 312.4 
L 606.52 327.9 
" clip-path="url(#p6a2ccd4bcd)" style="fill: none; stroke: #74747e; stroke-width: 0.8; stroke-linejoin: miter; stroke-linecap: square"/>
</g>
<g id="line2d_77">
<path d="M 458.32 354.7 
L 458.32 307.1 
L 562.06 307.1 
L 562.06 312.4 
" clip-path="url(#p6a2ccd4bcd)" style="fill: none; stroke: #74747e; stroke-width: 0.8; stroke-linejoin: miter; stroke-linecap: square"/>
</g>
<g id="line2d_78">
<path d="M 399.04 354.7 
L 399.04 283.6 
L 510.19 283.6 
L 510.19 307.1 
" clip-path="url(#p6a2ccd4bcd)" style="fill: none; stroke: #74747e; stroke-width: 0.8; stroke-linejoin: miter; stroke-linecap: square"/>
</g>
<g id="line2d_79">
<path d="M 368 561.86 
L 341.2 561.86 
L 341.2 620.62 
L 368 620.62 
" clip-path="url(#p6a2ccd4bcd)" style="fill: none; stroke: #74747e; stroke-width: 0.8; stroke-linejoin: miter; stroke-linecap: square"/>
</g>
<g id="line2d_80">
<path d="M 368 503.1 
L 325.7 503.1 
L 325.7 591.24 
L 341.2 591.24 
" clip-path="url(#p6a2ccd4bcd)" style="fill: none; stroke: #74747e; stroke-width: 0.8; stroke-linejoin: miter; stroke-linecap: square"/>
</g>
<g id="line2d_81">
<path d="M 368 444.34 
L 320.4 444.34 
L 320.4 547.17 
L 325.7 547.17 
" clip-path="url(#p6a2ccd4bcd)" style="fill: none; stroke: #74747e; stroke-width: 0.8; stroke-linejoin: miter; stroke-linecap: square"/>
</g>
<g id="line2d_82">
<path d="M 368 385.58 
L 296.9 385.58 
L 296.9 495.75 
L 320.4 495.75 
" clip-path="url(#p6a2ccd4bcd)" style="fill: none; stroke: #74747e; stroke-width: 0.8; stroke-linejoin: miter; stroke-linecap: square"/>
</g>
</g>
<g id="axes_6">
<g id="patch_18">
<path d="M 293.1 338.6 
L 307.7 338.6 
L 307.7 280.2 
L 293.1 280.2 
z
" style="fill: #ffffff"/>
</g>
<g id="cbarfill">
<path d="M 293.1 338.6 
L 307.7 338.6 
L 307.7 280.2 
L 293.1 280.2 
z
" clip-path="url(#p4afc47bf08)" style="fill: url(#rocketg)"/>
</g>
<g id="matplotlib.axis_9"/>
<g id="matplotlib.axis_10">
<g id="ytick_28">
<g id="line2d_83">
<g>
<use href="#m956fd3a591" x="307.7" y="336.66" style="fill: #6a6a6a; stroke: #6a6a6a"/>
</g>
</g>
<g id="text_69">
<text style="font-size: 6.7px; font-family: 'DejaVu Sans', 'Liberation Sans', sans-serif; text-anchor: start; fill: #262626" x="311.9" y="339.20" transform="rotate(-0 311.9 339.20)">0.30</text>
</g>
</g>
<g id="ytick_29">
<g id="line2d_84">
<g>
<use href="#m956fd3a591" x="307.7" y="324.56" style="fill: #6a6a6a; stroke: #6a6a6a"/>
</g>
</g>
<g id="text_70">
<text style="font-size: 6.7px; font-family: 'DejaVu Sans', 'Liberation Sans', sans-serif; text-anchor: start; fill: #262626" x="311.9" y="327.11" transform="rotate(-0 311.9 327.11)">0.45</text>
</g>
</g>
<g id="ytick_30">
<g id="line2d_85">
<g>
<use href="#m956fd3a591" x="307.7" y="312.46" style="fill: #6a6a6a; stroke: #6a6a6a"/>
</g>
</g>
<g id="text_71">
<text style="font-size: 6.7px; font-family: 'DejaVu Sans', 'Liberation Sans', sans-serif; text-anchor: start; fill: #262626" x="311.9" y="315.01" transform="rotate(-0 311.9 315.01)">0.60</text>
</g>
</g>
<g id="ytick_31">
<g id="line2d_86">
<g>
<use href="#m956fd3a591" x="307.7" y="300.36" style="fill: #6a6a6a; stroke: #6a6a6a"/>
</g>
</g>
<g id="text_72">
<text style="font-size: 6.7px; font-family: 'DejaVu Sans', 'Liberation Sans', sans-serif; text-anchor: start; fill: #262626" x="311.9" y="302.91" transform="rotate(-0 311.9 302.91)">0.75</text>
</g>
</g>
<g id="ytick_32">
<g id="line2d_87">
<g>
<use href="#m956fd3a591" x="307.7" y="288.26" style="fill: #6a6a6a; stroke: #6a6a6a"/>
</g>
</g>
<g id="text_73">
<text style="font-size: 6.7px; font-family: 'DejaVu Sans', 'Liberation Sans', sans-serif; text-anchor: start; fill: #262626" x="311.9" y="290.81" transform="rotate(-0 311.9 290.81)">0.90</text>
</g>
</g>
</g>
</g>
<g id="text_74">
<text style="font-size: 6.7px; font-family: 'DejaVu Sans', 'Liberation Sans', sans-serif; fill: #262626" transform="translate(684.94 515.28) rotate(-90)">com1</text>
</g>
</g>
<defs>
<clipPath id="pcce8763bb0">
<rect x="28.6" y="2.5" width="262.9" height="170.7"/>
</clipPath>
<clipPath id="p27ece66cb1">
<rect x="330" y="1.5" width="268.9" height="160"/>
</clipPath>
<clipPath id="pf8faa2f763">
<rect x="28.7" y="231.2" width="195.7" height="203.2"/>
</clipPath>
<clipPath id="pdbb2137045">
<rect x="369.4" y="356.2" width="296.4" height="293.8"/>
</clipPath>
<clipPath id="p6a2ccd4bcd">
<rect x="0" y="0" width="685" height="669"/>
</clipPath>
<clipPath id="p4afc47bf08">
<rect x="293.1" y="280.2" width="14.6" height="58.4"/>
</clipPath>
</defs>
</svg>

</body></html>
